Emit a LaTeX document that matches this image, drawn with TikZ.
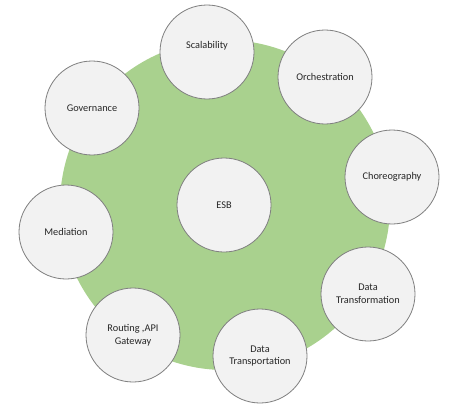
\documentclass[tikz,border=0pt]{standalone}
\usepackage{fontspec}
\setmainfont{Carlito}
\definecolor{ringgreen}{HTML}{A9D18E}
\definecolor{bubblefill}{HTML}{F2F2F2}
\definecolor{bubbleedge}{HTML}{7F7F7F}
\definecolor{txt}{HTML}{262626}
\begin{document}
\begin{tikzpicture}[x=1pt,y=-1pt,
  bubbletext/.style={text=txt,font=\fontsize{10.3}{12.7}\selectfont},
  bubble/.style={circle,draw=bubbleedge,line width=0.8pt,fill=bubblefill,
    minimum size=94pt,inner sep=0pt,align=center,bubbletext},
  hub/.style={circle,fill=ringgreen,minimum size=330pt,inner sep=0pt}]
\useasboundingbox (0,0) rectangle (474,412);
\node[hub] (ring) at (225,205) {};
\node[bubble] (esb) at (224,205) {ESB};
\node[bubble,label={[bubbletext,yshift=6pt]center:Scalability}] (scal) at (207,52) {};
\node[bubble] (orch) at (325,77) {Orchestration};
\node[bubble] (gov) at (92,108) {Governance};
\node[bubble] (chor) at (392,177) {Choreography};
\node[bubble] (med) at (66,232) {Mediation};
\node[bubble] (dtf) at (368,294) {Data\\Transformation};
\node[bubble] (rout) at (133,335) {Routing ,API\\Gateway};
\node[bubble] (dtp) at (260,356) {Data\\Transportation};
\end{tikzpicture}
\end{document}
